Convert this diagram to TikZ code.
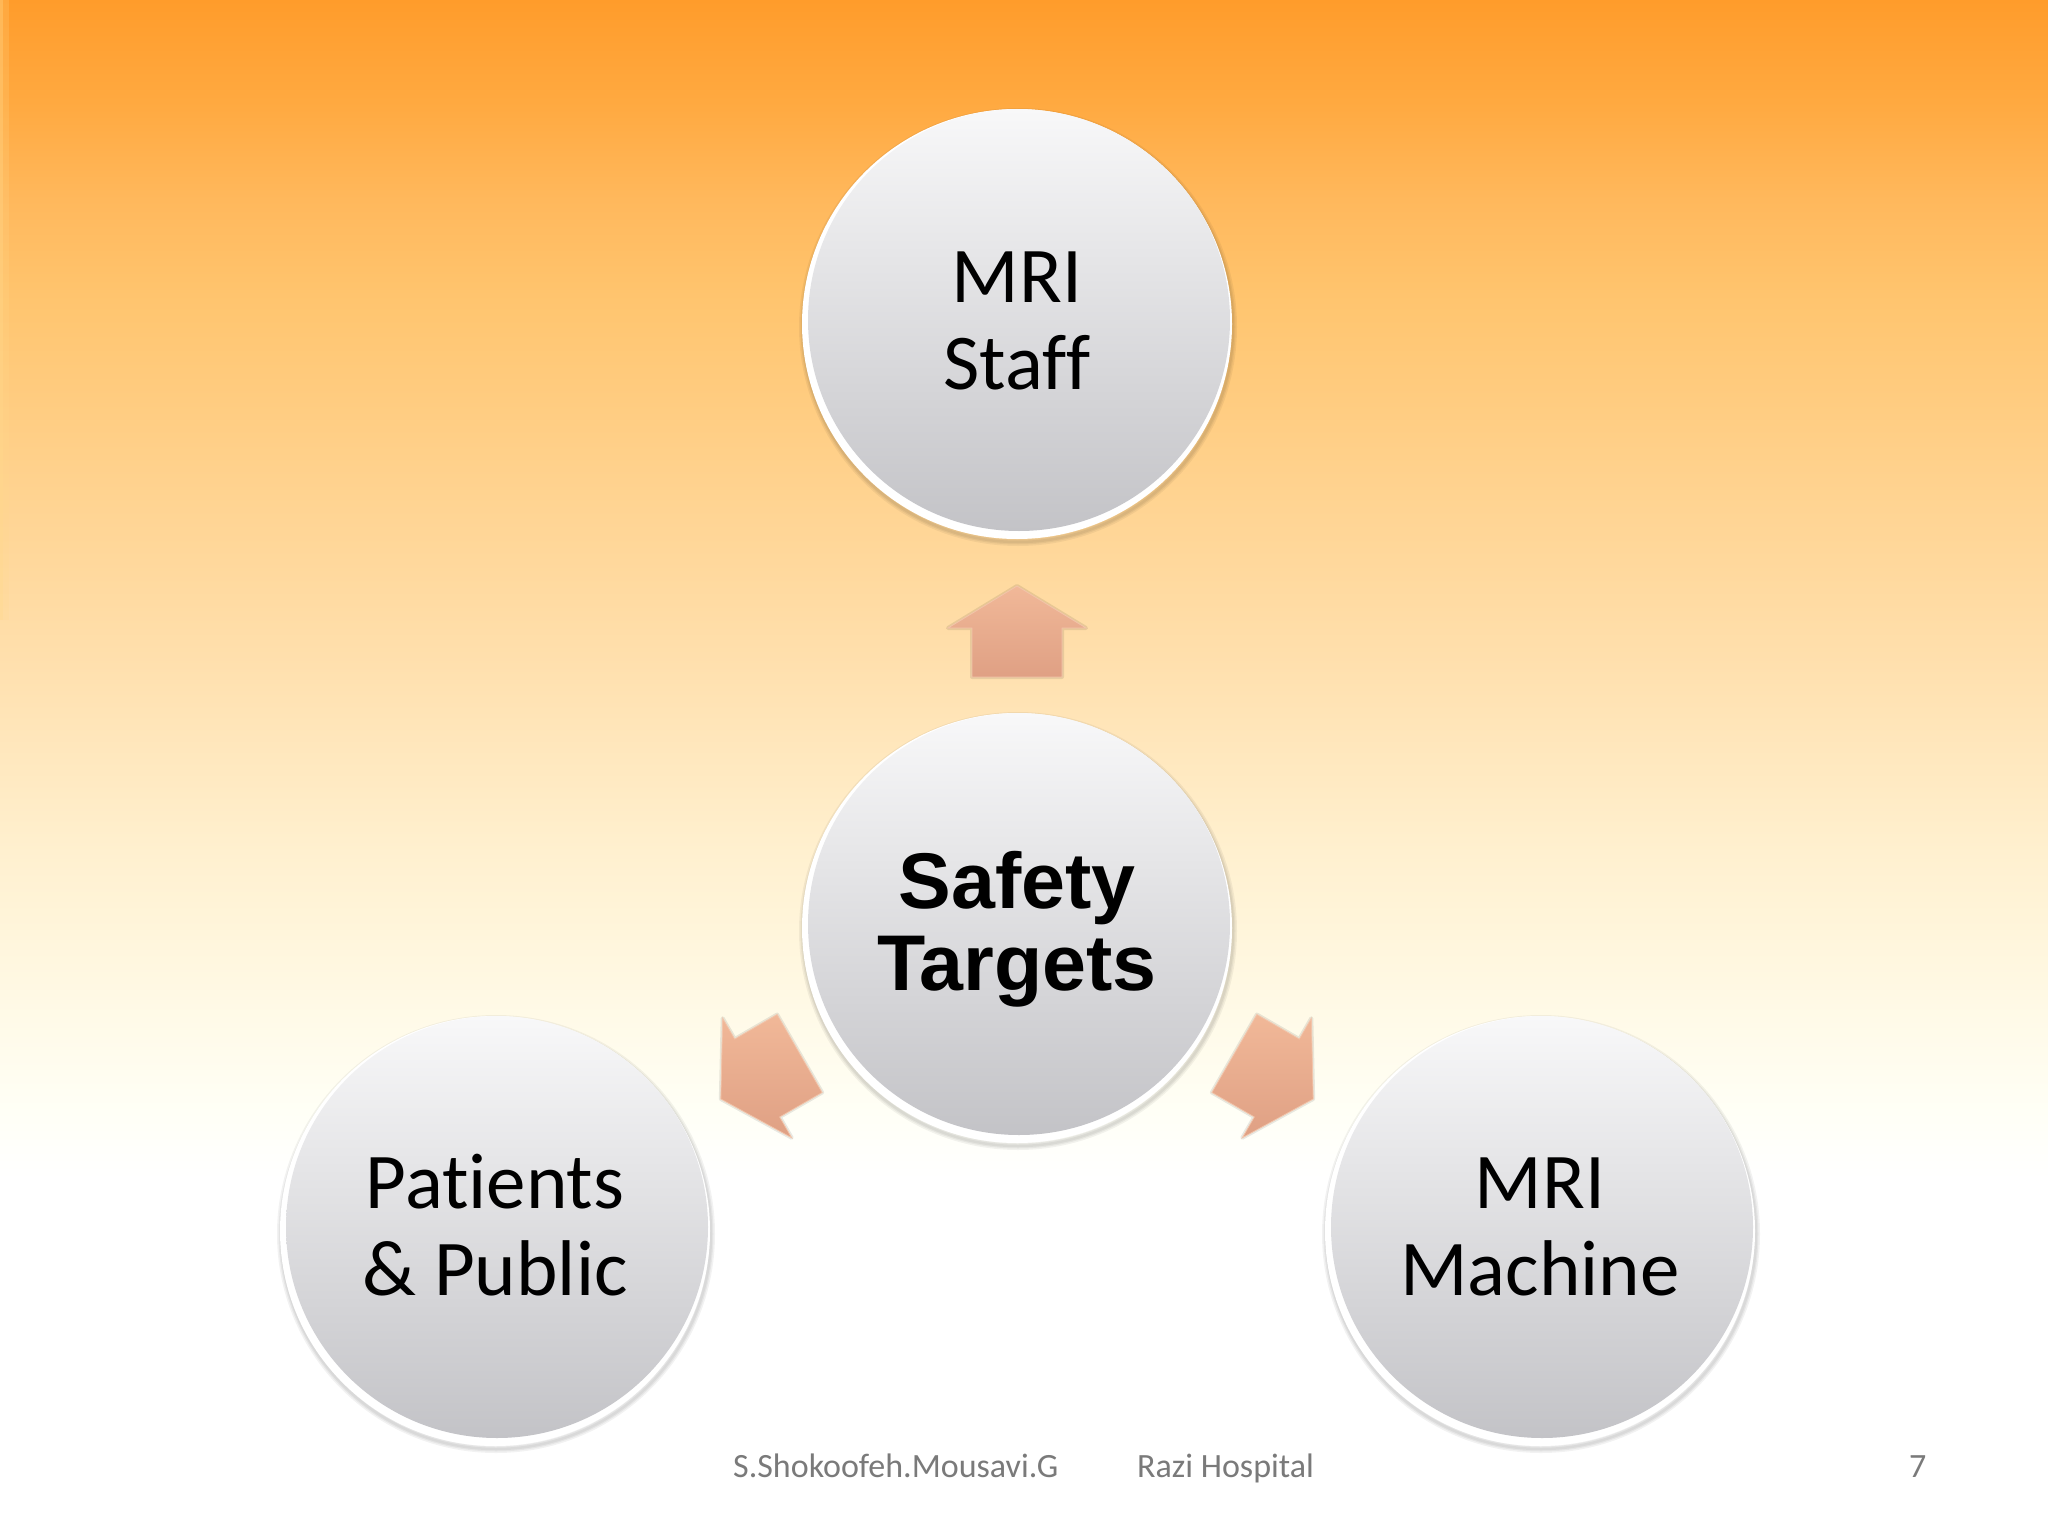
\documentclass[tikz,border=0pt]{standalone}
\usepackage{fontspec}
\setmainfont[Ligatures=NoCommon]{Carlito}
\newfontfamily\arialfont{Liberation Sans}
\definecolor{bgA}{HTML}{FF9C2B}
\definecolor{bgB}{HTML}{FFA940}
\definecolor{bgC}{HTML}{FFB85C}
\definecolor{bgD}{HTML}{FFC56F}
\definecolor{bgE}{HTML}{FFCC80}
\definecolor{bgF}{HTML}{FFDFAC}
\definecolor{bgG}{HTML}{FFF0CF}
\definecolor{bgH}{HTML}{FFF8E2}
\definecolor{bgI}{HTML}{FFFFF6}
% 25bp..75bp of a TikZ axis shading span the filled box; p = 75 - 50*y/1536
\pgfdeclareverticalshading{slidebg}{100bp}{
 color(0bp)=(white); color(25bp)=(white); color(36.6bp)=(white);
 color(38.8bp)=(bgI); color(43.1bp)=(bgH); color(47.3bp)=(bgG); color(53.7bp)=(bgF);
 color(62bp)=(bgE); color(65.2bp)=(bgD); color(68.5bp)=(bgC); color(71.7bp)=(bgB);
 color(75bp)=(bgA); color(100bp)=(bgA)}
\newcommand\twolines[4]{\makebox[0pt]{\raisebox{#3pt}[0pt][0pt]{#1}}\makebox[0pt]{\raisebox{#4pt}[0pt][0pt]{#2}}}
\tikzset{
 x=1pt,y=-1pt,
 disc/.style={circle,minimum size=430pt,inner sep=0pt,draw=none,fill=white,text=black,
   font=\fontsize{79}{86}\selectfont,
   path picture={
     \shade[top color=discTop,bottom color=discBottom]
       ([xshift=2pt,yshift=4pt]path picture bounding box.center) circle[radius=211pt];
   }},
 discbold/.style={disc,font=\arialfont\bfseries\fontsize{79}{82}\selectfont},
 discedge/.style={draw=black,opacity=.05,fill=none},
 blockarrow/.style={top color=arrowTop,bottom color=arrowBottom,draw=arrowLine,line width=.8pt,line join=miter},
 footertext/.style={anchor=base west,inner sep=0pt,text=footerGray,font=\fontsize{34}{36}\selectfont}
}
\definecolor{discTop}{HTML}{F8F8F9}
\definecolor{discBottom}{HTML}{C2C2C6}
\definecolor{arrowTop}{HTML}{F1B898}
\definecolor{arrowBottom}{HTML}{DFA084}
\definecolor{arrowLine}{HTML}{F2C4AA}
\definecolor{footerGray}{HTML}{7A7A7A}
\definecolor{stripCol}{HTML}{FFD98C}
\newcommand\halo[1]{%
 \foreach \w in {8,5,2.5}{\draw[discedge,line width=\w pt] (#1) ++(1,3) circle[radius=215pt];}}
\begin{document}
\begin{tikzpicture}
\useasboundingbox (0,0) rectangle (2048,1536);
\fill[shading=slidebg] (0,0) rectangle (2048,1536);
\fill[stripCol,opacity=.45] (0,0) rectangle (3,620);
\fill[stripCol,opacity=.2] (3,0) rectangle (9,620);

\coordinate (pt) at (1017,324);
\coordinate (pc) at (1017,928);
\coordinate (pl) at (495,1231);
\coordinate (pr) at (1540,1231);
\halo{pt}\halo{pc}\halo{pl}\halo{pr}

\node[disc] (staff) at (pt) {\twolines{MRI}{Staff}{21.5}{-65}};
\node[discbold] (safety) at (pc) {\twolines{Safety}{Targets}{20}{-62.5}};
\node[disc] (patients) at (pl) {\twolines{Patients}{\& Public}{22.5}{-64}};
\node[disc] (machine) at (pr) {\twolines{MRI}{Machine}{22.5}{-64}};

\foreach \a in {0,120,-120}{
 \begin{scope}[shift={(safety.center)},rotate=\a]
  \draw[black,opacity=.09,line width=4pt,line join=round]
    (0,-342) -- (69,-300) -- (45,-300) -- (45,-251) -- (-45,-251) -- (-45,-300) -- (-69,-300) -- cycle;
  \path[blockarrow]
    (0,-342) -- (69,-300) -- (45,-300) -- (45,-251) -- (-45,-251) -- (-45,-300) -- (-69,-300) -- cycle;
 \end{scope}
}

\node[footertext] (author) at (733,1477) {S.Shokoofeh.Mousavi.G};
\node[footertext] (place) at (1137,1477) {Razi Hospital};
\node[footertext] (pagenum) at (1909,1477) {7};
\end{tikzpicture}
\end{document}
